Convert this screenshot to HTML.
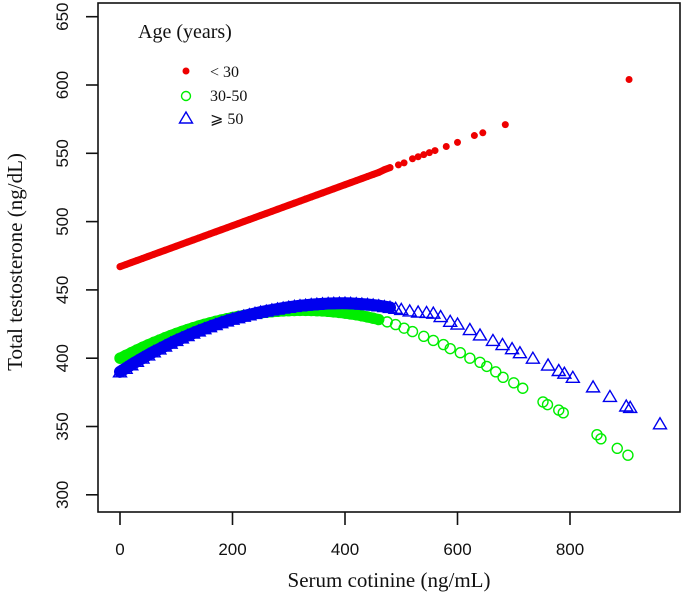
<!DOCTYPE html>
<html><head><meta charset="utf-8"><style>
body{margin:0;background:#fff;width:685px;height:601px;overflow:hidden}
svg{display:block}
.t{font-family:"Liberation Sans",sans-serif;font-size:17px;fill:#111}
.s{font-family:"Liberation Serif",serif;fill:#111}
</style></head><body>
<svg id="c" width="685" height="601"></svg>
<script>
const xTicks=[0,200,400,600,800];
const yTicks=[300,350,400,450,500,550,600,650];
const redX=[0,10,20,30,40,50,60,70,80,90,100,110,120,130,140,150,160,170,180,190,200,210,220,230,240,250,260,270,280,290,300,310,320,330,340,350,360,370,380,390,400,410,420,430,440,450,460,470,480,495,505,520,530,540,550,560,580,600,630,645,685,905];
const redY=[467,468.5,470,471.5,473,474.5,476,477.5,479,480.5,482,483.5,485,486.5,488,489.5,491,492.5,494,495.5,497,498.5,500,501.5,503,504.5,506,507.5,509,510.5,512,513.5,515,516.5,518,519.5,521,522.5,524,525.5,527,528.5,530,531.5,533,534.5,536,538,539.5,541.5,543,546,547.5,549,550.5,552,555,558,563,565,571,604];
const greenX=[0,10,20,30,40,50,60,70,80,90,100,110,120,130,140,150,160,170,180,190,200,210,220,230,240,250,260,270,280,290,300,310,320,330,340,350,360,370,380,390,400,410,420,430,440,450,460,475,490,505,520,540,557,575,587,605,622,640,652,668,681,700,716,752,760,780,788,848,855,884,903];
const greenY=[400,402,404,406,408,409.8,411.6,413.3,415,416.6,418.1,419.6,421,422.3,423.6,424.8,425.9,427,428,428.9,429.8,430.6,431.3,432,432.6,433.1,433.6,434,434.3,434.6,434.8,434.9,435,435,434.9,434.8,434.6,434.3,433.9,433.5,433,432.4,431.8,431,430.2,429.3,428.3,426.6,424.6,422,419.5,416,413,410,407,404,400,397,394,390,386,382,378,368,366,362,360,344,341,334,329];
const blueX=[0,10,20,30,40,50,60,70,80,90,100,110,120,130,140,150,160,170,180,190,200,210,220,230,240,250,260,270,280,290,300,310,320,330,340,350,360,370,380,390,400,410,420,430,440,450,460,470,480,490,500,515,530,545,557,570,587,600,622,640,663,680,697,711,734,761,780,790,805,841,871,900,907,960];
const blueY=[390,392.6,395.2,397.7,400.1,402.4,404.7,406.8,408.9,411,413,414.8,416.6,418.4,420,421.6,423.1,424.6,426,427.3,428.6,429.7,430.8,431.8,432.8,433.7,434.5,435.3,436,436.7,437.3,437.9,438.4,438.8,439.2,439.5,439.8,440,440.1,440.2,440.2,440.1,439.9,439.6,439.3,438.9,438.4,437.8,437.2,436.5,435.7,434.6,433.8,433.5,433,430.5,427,425,421,417,413,410,407,404,400,395,391,389,386,379,372,365,364,352];

const L=98,R=680,T=3,B=512;
const X=v=>120+v*0.5625;
const Y=v=>85+(600-v)*1.366;
const svg=document.getElementById('c');
const NS='http://www.w3.org/2000/svg';
function mk(tag,attrs,parent){const e=document.createElementNS(NS,tag);for(const k in attrs)e.setAttribute(k,attrs[k]);(parent||svg).appendChild(e);return e;}

const box=mk('rect',{x:L,y:T,width:R-L,height:B-T,fill:'none',stroke:'#111','stroke-width':1.6});



xTicks.forEach(v=>{
  const l=mk('line',{x1:X(v),x2:X(v),y1:B,y2:B+13,stroke:'#111','stroke-width':1.6});
  
  
  const t=mk('text',{x:X(v),y:B+43,'text-anchor':'middle',class:'t'});
  t.textContent=v;
  
  
});
yTicks.forEach(v=>{
  const l=mk('line',{x1:L-12,x2:L,y1:Y(v),y2:Y(v),stroke:'#111','stroke-width':1.6});
  
  
  const t=mk('text',{x:0,y:0,'text-anchor':'middle',class:'t',transform:`translate(${L-30},${Y(v)}) rotate(-90)`});
  t.textContent=v;
  
  
});
const xt=mk('text',{x:389,y:587,'text-anchor':'middle',class:'s','font-size':21});
xt.textContent='Serum cotinine (ng/mL)';


const yt=mk('text',{x:0,y:0,'text-anchor':'middle',class:'s','font-size':21,transform:'translate(22,262) rotate(-90)'});
yt.textContent='Total testosterone (ng/dL)';



function band(xs,ys,color,w,name,maxX){
  let d='';
  for(let i=0;i<xs.length && xs[i]<=maxX;i++){
    if(i>0) d+=` L${X(xs[i])},${Y(ys[i])}`;
    else d+=`M${X(xs[i])},${Y(ys[i])}`;
  }
  const p=mk('path',{d:d,fill:'none',stroke:color,'stroke-width':w,'stroke-linecap':'round','stroke-linejoin':'round'});
  
  
}
function tri(cx,cy,color,g){
  return mk('polygon',{points:`${cx},${cy-6} ${cx-6.5},${cy+5} ${cx+6.5},${cy+5}`,fill:'none',stroke:color,'stroke-width':1.4},g);
}
// green
band(greenX,greenY,'#00ee00',11,'green-band',460);
const gg=mk('g',{});


greenX.forEach((x,i)=>{
  const c=mk('circle',{cx:X(x),cy:Y(greenY[i]),r:5,fill:'none',stroke:'#00ee00','stroke-width':1.4},gg);
  
  
});
// blue
band(blueX,blueY,'#0000ee',12,'blue-band',480);
const bg=mk('g',{});


blueX.forEach((x,i)=>{
  const p=tri(X(x),Y(blueY[i]),'#0000ee',bg);
  
  
});
// red
band(redX,redY,'#ee0000',7,'red-band',480);
const rg=mk('g',{});


redX.forEach((x,i)=>{
  const c=mk('circle',{cx:X(x),cy:Y(redY[i]),r:3.5,fill:'#ee0000'},rg);
  
  
});

// legend
const lg=mk('g',{});


const lt=mk('text',{x:138,y:38,class:'s','font-size':20},lg);
lt.textContent='Age (years)';


const e1=mk('circle',{cx:186,cy:71,r:3.5,fill:'#ee0000'},lg);


const e2=mk('circle',{cx:186,cy:96,r:4.5,fill:'none',stroke:'#00ee00','stroke-width':1.4},lg);


const e3=tri(186,118,'#0000ee',lg);


[['< 30',77],['30-50',101],['\u2a7e 50',124]].forEach(([s,y])=>{
  const t=mk('text',{x:210,y:y,class:'s','font-size':16},lg);
  t.textContent=s;
  
  
});
</script>
</body></html>
